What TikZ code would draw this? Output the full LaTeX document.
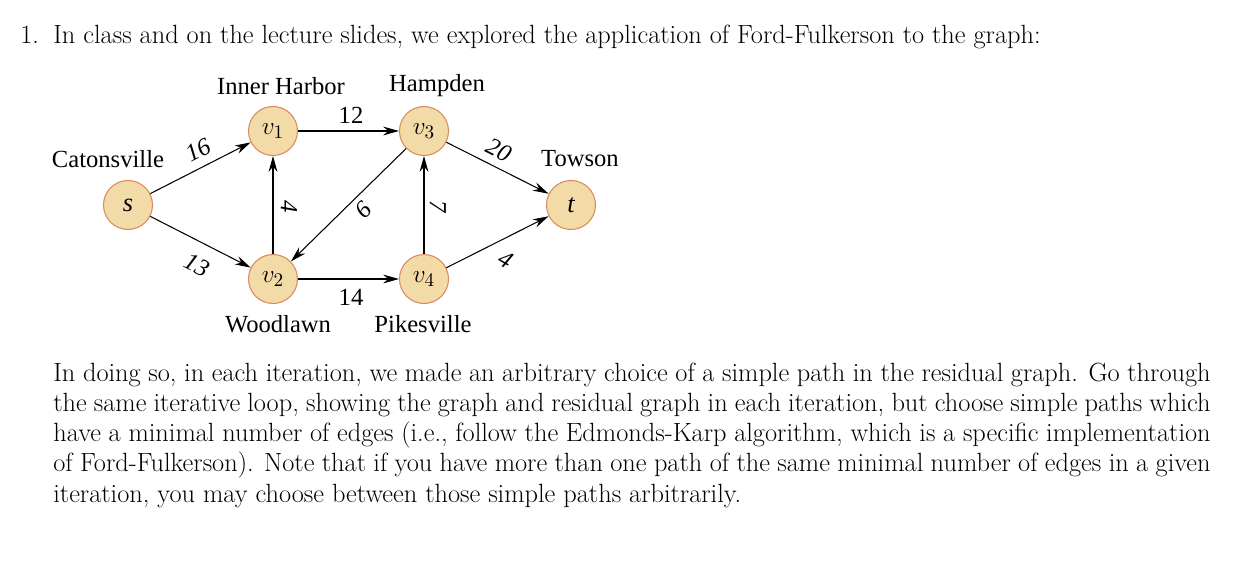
\documentclass[tikz,border=0pt]{standalone}
\usepackage{fontspec}
\newfontfamily\tmsfont{Liberation Serif}
\usetikzlibrary{arrows.meta}
\definecolor{nodefill}{HTML}{F3DBA8}
\definecolor{nodeline}{HTML}{D88A5C}
\begin{document}
\begin{tikzpicture}[x=0.02cm,y=-0.02cm,
  vtx/.style={circle,draw=nodeline,fill=nodefill,line width=0.6pt,minimum size=0.98cm,inner sep=0pt,font=\tmsfont\fontsize{15}{15}\selectfont\itshape},
  place/.style={font=\tmsfont\fontsize{14}{16}\selectfont},
  wt/.style={font=\tmsfont\fontsize{14}{16}\selectfont\itshape,inner sep=1pt},
  wtu/.style={font=\tmsfont\fontsize{14}{16}\selectfont},
  edge/.style={-{Stealth[length=9pt,width=5pt]},line width=0.6pt}]
\useasboundingbox (0,0) rectangle (1256,570);
\node[anchor=base west,inner sep=0pt,font=\fontsize{15}{17}\selectfont] (num) at (20,44) {1.};
\node[anchor=base west,inner sep=0pt,font=\fontsize{15}{17}\selectfont] (intro) at (53,44) {In class and on the lecture slides, we explored the application of Ford-Fulkerson to the graph:};
\node[vtx] (s) at (128,205) {s};
\node[vtx] (v1) at (273,131) {$v_1$};
\node[vtx] (v3) at (424,131) {$v_3$};
\node[vtx] (t) at (571,205) {t};
\node[vtx] (v2) at (273,279) {$v_2$};
\node[vtx] (v4) at (424,279) {$v_4$};
\node[place] (ls) at (108,159) {Catonsville};
\node[place] (l1) at (281,86) {Inner Harbor};
\node[place] (l3) at (437,86) {Hampden};
\node[place] (lt) at (580,159) {Towson};
\node[place] (l2) at (278,324) {Woodlawn};
\node[place] (l4) at (423,324) {Pikesville};
\draw[edge] (s) -- (v1);
\draw[edge] (s) -- (v2);
\draw[edge] (v1) -- (v3);
\draw[edge] (v2) -- (v1);
\draw[edge] (v3) -- (v2);
\draw[edge] (v2) -- (v4);
\draw[edge] (v4) -- (v3);
\draw[edge] (v3) -- (t);
\draw[edge] (v4) -- (t);
\node[wt,rotate=27] (w16) at (198,150) {16};
\node[wt,rotate=-27] (w13) at (197,265) {13};
\node[wtu] (w12) at (351,115) {12};
\node[wtu] (w14) at (351,297) {14};
\node[wt,rotate=-27] (w20) at (499,150) {20};
\node[wt,rotate=-90] (w4a) at (289,207) {4};
\node[wt,rotate=-90] (w7) at (438,207) {7};
\node[wt,rotate=225] (w9) at (364,210) {9};
\node[wt,rotate=-30] (w4b) at (506,260) {4};
\node[anchor=north west,inner sep=0pt] (body) at (53,363)
 {\parbox{23.15cm}{\fontsize{15}{17.1}\selectfont In doing so, in each iteration, we made an arbitrary choice of a simple path in the residual graph. Go through the same iterative loop, showing the graph and residual graph in each iteration, but choose simple paths which have a minimal number of edges (i.e., follow the Edmonds-Karp algorithm, which is a specific implementation of Ford-Fulkerson). Note that if you have more than one path of the same minimal number of edges in a given iteration, you may choose between those simple paths arbitrarily.}};
\end{tikzpicture}
\end{document}
